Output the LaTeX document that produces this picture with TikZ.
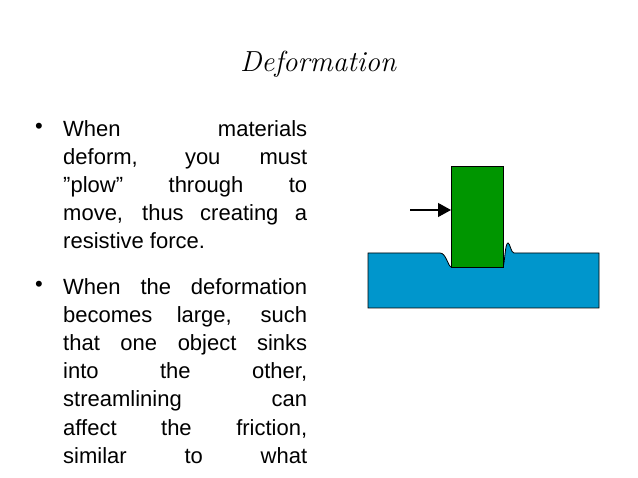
\documentclass[tikz,border=0pt]{standalone}
\usepackage{fontspec}
\setmainfont{Liberation Sans}
\newfontfamily\titlefont{Latin Modern Roman}
\usetikzlibrary{arrows.meta}
\begin{document}
\begin{tikzpicture}[x=1pt,y=-1pt,
  txt/.style={anchor=north west,inner sep=0pt,text width=244pt,align=justify,font=\fontsize{22}{28.2}\selectfont},
  bul/.style={anchor=north west,inner sep=0pt,font=\fontsize{22}{28.2}\selectfont}]
\useasboundingbox[fill=white] (0,0) rectangle (638,478);
\node (title) at (318,64) {\titlefont\itshape\fontsize{29}{32}\selectfont Deformation};
\node[bul] (b1) at (35,123) {\textbullet};
\node[txt] (t1) at (63,120) {When materials\linebreak deform, you must\linebreak \symbol{34}plow\symbol{34} through to\linebreak move, thus creating a\linebreak resistive force.};
\node[bul] (b2) at (35,281) {\textbullet};
\node[txt] (t2) at (63,278) {When the deformation\linebreak becomes large, such\linebreak that one object sinks\linebreak into the other,\linebreak streamlining can\linebreak affect the friction,\linebreak \hbox to 244pt{similar\hfill to\hfill what}};
% substrate
\draw[fill={rgb,255:red,0;green,150;blue,204},line width=0.8pt]
 (368,253) -- (440,253) .. controls (446,253) and (448,266) .. (451,267)
 -- (503,267) .. controls (505,262) and (505,243) .. (508,243)
 .. controls (510,243) and (511,253) .. (514,253) -- (599,253) -- (599,308) -- (368,308) -- cycle;
\draw[fill={rgb,255:red,0;green,150;blue,0},line width=0.8pt] (451,166) rectangle (503,267);
\coordinate (a0) at (410,210);
\coordinate (a1) at (451,210);
\draw[line width=1.2pt,-{Triangle[length=13pt,width=14pt]}] (a0) -- (a1);
\end{tikzpicture}
\end{document}
